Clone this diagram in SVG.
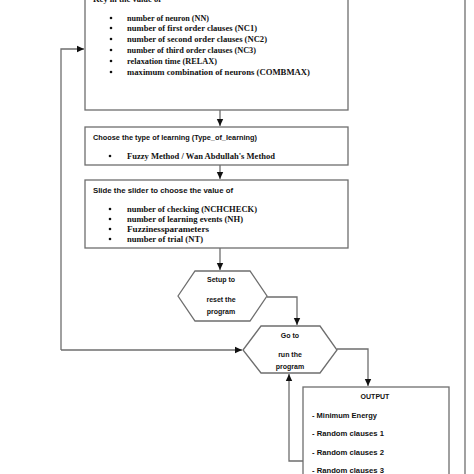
<svg xmlns="http://www.w3.org/2000/svg" width="474" height="474" viewBox="0 0 474 474">
<defs>
<style>
.box{fill:#fff;stroke:#6e6e6e;stroke-width:1.3}
.ln{fill:none;stroke:#6e6e6e;stroke-width:1.3}
.serif{font-family:"Liberation Serif","Times New Roman",serif;font-weight:bold;font-size:8.5px;fill:#111}
.sans{font-family:"Liberation Sans",Arial,sans-serif;font-weight:bold;font-size:7px;fill:#111}
.dot{fill:#111}
</style>
<marker id="ah" markerWidth="8" markerHeight="8" refX="7" refY="4" orient="auto" markerUnits="userSpaceOnUse">
<path d="M0,0.8 L7,4 L0,7.2 Z" fill="#111"/>
</marker>
</defs>
<rect width="474" height="474" fill="#fff"/>
<line x1="465" y1="0" x2="465" y2="474" class="ln"/>

<g id="connectors">
<path class="ln" d="M61,350 L61,49 L84,49" marker-end="url(#ah)"/>
<path class="ln" d="M220,110 L220,126" marker-end="url(#ah)"/>
<path class="ln" d="M220,165 L220,179" marker-end="url(#ah)"/>
<path class="ln" d="M220,248 L220,270" marker-end="url(#ah)"/>
<path class="ln" d="M267,297 L297,297 L297,325" marker-end="url(#ah)"/>
<path class="ln" d="M61,350 L242,350" marker-end="url(#ah)"/>
<path class="ln" d="M337,349 L368,349 L368,386" marker-end="url(#ah)"/>
<path class="ln" d="M303,461 L289,461 L289,374" marker-end="url(#ah)"/>
</g>

<g id="keyin">
<rect class="box" x="85" y="-10" width="263" height="120"/>
<text class="serif" x="93" y="2">Key in the value of</text>
<circle class="dot" cx="111" cy="18" r="1.3"/>
<text class="serif" x="127" y="21" textLength="82" lengthAdjust="spacingAndGlyphs">number of neuron (NN)</text>
<circle class="dot" cx="111" cy="28" r="1.3"/>
<text class="serif" x="127" y="31" textLength="130" lengthAdjust="spacingAndGlyphs">number of first order clauses (NC1)</text>
<circle class="dot" cx="111" cy="39" r="1.3"/>
<text class="serif" x="127" y="42" textLength="140" lengthAdjust="spacingAndGlyphs">number of second order clauses (NC2)</text>
<circle class="dot" cx="111" cy="50" r="1.3"/>
<text class="serif" x="127" y="53" textLength="129" lengthAdjust="spacingAndGlyphs">number of third order clauses (NC3)</text>
<circle class="dot" cx="111" cy="61" r="1.3"/>
<text class="serif" x="127" y="64" textLength="90" lengthAdjust="spacingAndGlyphs">relaxation time (RELAX)</text>
<circle class="dot" cx="111" cy="72" r="1.3"/>
<text class="serif" x="127" y="75" textLength="183" lengthAdjust="spacingAndGlyphs">maximum combination of neurons (COMBMAX)</text>
</g>

<g id="learning">
<rect class="box" x="85" y="127" width="263" height="38"/>
<text class="sans" x="93" y="140" textLength="164" lengthAdjust="spacingAndGlyphs">Choose the type of learning (Type_of_learning)</text>
<circle class="dot" cx="110" cy="156" r="1.3"/>
<text class="serif" x="127" y="159" textLength="148" lengthAdjust="spacingAndGlyphs">Fuzzy Method / Wan Abdullah's Method</text>
</g>

<g id="slider">
<rect class="box" x="85" y="180" width="263" height="68"/>
<text class="sans" x="93" y="193" textLength="140" lengthAdjust="spacingAndGlyphs">Slide the slider to choose the value of</text>
<circle class="dot" cx="110" cy="209" r="1.3"/>
<text class="serif" x="127" y="212" textLength="130" lengthAdjust="spacingAndGlyphs">number of checking (NCHCHECK)</text>
<circle class="dot" cx="110" cy="219" r="1.3"/>
<text class="serif" x="127" y="222" textLength="116" lengthAdjust="spacingAndGlyphs">number of learning events (NH)</text>
<circle class="dot" cx="110" cy="229" r="1.3"/>
<text class="serif" x="127" y="232" textLength="82" lengthAdjust="spacingAndGlyphs">Fuzzinessparameters</text>
<circle class="dot" cx="110" cy="239" r="1.3"/>
<text class="serif" x="127" y="242" textLength="76" lengthAdjust="spacingAndGlyphs">number of trial (NT)</text>
</g>

<g id="setup">
<polygon class="box" points="178,296 195,271 250,271 267,296 250,321 195,321"/>
<text class="sans" x="221" y="282" text-anchor="middle" font-size="7.5">Setup to</text>
<text class="sans" x="221" y="302" text-anchor="middle" font-size="7.5">reset the</text>
<text class="sans" x="221" y="314" text-anchor="middle" font-size="7.5">program</text>
</g>

<g id="goto">
<polygon class="box" points="243,350 261,326 320,326 337,350 320,373 261,373"/>
<text class="sans" x="290" y="338" text-anchor="middle" font-size="7.5">Go to</text>
<text class="sans" x="290" y="357" text-anchor="middle" font-size="7.5">run the</text>
<text class="sans" x="290" y="369" text-anchor="middle" font-size="7.5">program</text>
</g>

<g id="output">
<rect class="box" x="303" y="387" width="146" height="100"/>
<text class="sans" x="375" y="399" text-anchor="middle" font-size="7.5">OUTPUT</text>
<text class="sans" x="312" y="418" font-size="7.5" textLength="65" lengthAdjust="spacingAndGlyphs">- Minimum  Energy</text>
<text class="sans" x="312" y="436" font-size="7.5" textLength="72" lengthAdjust="spacingAndGlyphs">- Random  clauses 1</text>
<text class="sans" x="312" y="455" font-size="7.5" textLength="72" lengthAdjust="spacingAndGlyphs">- Random  clauses 2</text>
<text class="sans" x="312" y="473" font-size="7.5" textLength="72" lengthAdjust="spacingAndGlyphs">- Random  clauses 3</text>
</g>
</svg>
